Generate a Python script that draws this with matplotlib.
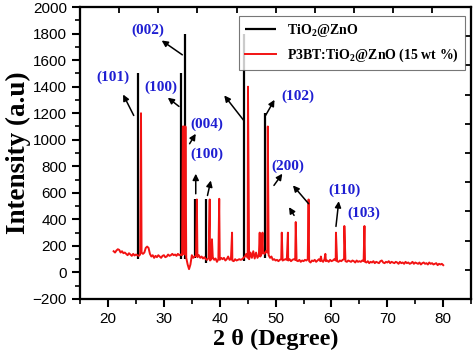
import numpy as np
import matplotlib
matplotlib.use("Agg")
import matplotlib.pyplot as plt
from matplotlib.ticker import MultipleLocator

plt.rcParams['font.family'] = ['Liberation Sans', 'DejaVu Sans']
plt.rcParams['mathtext.fontset'] = 'custom'
plt.rcParams['mathtext.rm'] = 'Liberation Serif:bold'
plt.rcParams['mathtext.bf'] = 'Liberation Serif:bold'

# black pattern (TiO2@ZnO): sharp reflections only
black_x = [25.3, 33.15, 33.85, 35.5, 37.6, 44.35, 48.1]
black_top = [1500, 1500, 1800, 550, 550, 1800, 1200]
black_bottom = [100, 100, 100, 110, 70, 90, 110]

# red pattern (P3BT:TiO2@ZnO): baseline sampled every 0.25 deg from 21 to 80
red_start, red_step = 21.0, 0.25
red_base = [
    160, 150, 165, 175,   # 21
    170, 150, 160, 145,   # 22
    150, 140, 130, 145,   # 23
    135, 125, 140, 128,   # 24
    135, 130, 125, 135,   # 25
    150, 140, 150, 185,   # 26
    195, 185, 140, 120,   # 27
    130, 110, 125, 115,   # 28
    130, 120, 110, 125,   # 29
    130, 115, 120, 135,   # 30
    125, 130, 140, 130,   # 31
    135, 125, 140, 130,   # 32
    135, 130, 140, 135,   # 33
    110, 60, 25, 60,      # 34
    130, 110, 120, 125,   # 35
    115, 130, 110, 120,   # 36
    105, 115, 100, 95,    # 37
    110, 90, 100, 115,    # 38
    95, 105, 80, 100,     # 39
    95, 110, 100, 110,    # 40
    90, 100, 120, 95,     # 41
    100, 90, 85, 100,     # 42
    90, 95, 100, 95,      # 43
    100, 110, 120, 140,   # 44
    110, 100, 150, 110,   # 45
    160, 105, 150, 110,   # 46
    130, 120, 140, 150,   # 47
    140, 160, 150, 130,   # 48
    110, 120, 95, 100,    # 49
    90, 95, 85, 95,       # 50
    100, 90, 95, 100,     # 51
    95, 90, 100, 85,      # 52
    95, 100, 95, 90,      # 53
    85, 95, 80, 90,       # 54
    85, 95, 90, 100,      # 55
    85, 75, 90, 85,       # 56
    95, 80, 90, 100,      # 57
    85, 90, 80, 100,      # 58
    85, 90, 80, 95,       # 59
    85, 90, 100, 90,      # 60
    85, 80, 90, 85,       # 61
    95, 100, 85, 80,      # 62
    90, 85, 80, 90,       # 63
    85, 75, 90, 80,       # 64
    85, 80, 90, 85,       # 65
    80, 75, 85, 70,       # 66
    80, 75, 85, 70,       # 67
    80, 75, 70, 85,       # 68
    90, 75, 70, 80,       # 69
    75, 85, 70, 80,       # 70
    75, 70, 80, 75,       # 71
    65, 80, 70, 75,       # 72
    65, 80, 70, 75,       # 73
    65, 70, 80, 65,       # 74
    75, 70, 65, 75,       # 75
    60, 70, 75, 65,       # 76
    70, 60, 75, 65,       # 77
    70, 60, 65, 70,       # 78
    55, 65, 60, 65,       # 79
    55,                   # 80
]
red_peak_x = [25.9, 33.4, 33.6, 33.85, 35.9, 38.2, 38.6, 39.9, 42.2, 45.05,
              47.15, 47.65, 48.6, 51.1, 52.2, 53.6, 55.9, 58.1, 58.9, 60.8,
              62.3, 65.9]
red_peak_y = [1200, 1100, 1100, 1100, 550, 550, 250, 555, 300, 1400,
              300, 300, 1100, 300, 300, 380, 550, 120, 140, 300,
              350, 350]

# hkl labels and their arrows (tail, head)
labels = [("(101)", (20.8, 1471)), ("(002)", (27.1, 1824)), ("(100)", (29.4, 1399)),
          ("(004)", (37.7, 1120)), ("(100)", (37.7, 891)), ("(102)", (53.9, 1326)),
          ("(200)", (52.1, 804)), ("(110)", (62.3, 622)), ("(103)", (65.8, 446))]
arrows = [((24.6, 1183), (22.7, 1341)), ((33.3, 1640), (29.6, 1748)),
          ((32.7, 1251), (30.7, 1317)), ((34.6, 970), (35.7, 1045)),
          ((35.7, 593), (35.7, 744)), ((37.8, 580), (38.4, 693)),
          ((44.3, 1145), (40.8, 1334)), ((48.2, 1183), (49.8, 1301)),
          ((49.7, 656), (51.2, 744)), ((55.9, 518), (53.1, 656)),
          ((53.3, 430), (52.4, 492)), ((60.8, 347), (61.3, 537))]

base_x = red_start + red_step * np.arange(len(red_base))
rx = np.concatenate([base_x, red_peak_x])
ry = np.concatenate([red_base, red_peak_y])
order = np.argsort(rx, kind='mergesort')
rx, ry = rx[order], ry[order]

fig = plt.figure(figsize=(4.74, 3.53), dpi=100)
ax = fig.add_axes([0.169, 0.153, 0.825, 0.827])

hb = ax.vlines(black_x, black_bottom, black_top, colors='k', lw=1.6,
               label='TiO$_2$@ZnO')
hr, = ax.plot(rx, ry, color='#f21313', lw=1.4, label='P3BT:TiO$_2$@ZnO (15 wt %)')

blue = '#1f1fd2'
for txt, (x, y) in labels:
    ax.text(x, y, txt, color=blue, fontsize=11, fontweight='bold',
            family='Liberation Serif', ha='center', va='center')
for tail, head in arrows:
    ax.annotate('', xy=head, xytext=tail,
                arrowprops=dict(arrowstyle='-|>', color='k', lw=1.1,
                                mutation_scale=9, shrinkA=0, shrinkB=0))

ax.set_xlim(15, 85)
ax.set_ylim(-200, 2000)
ax.xaxis.set_major_locator(MultipleLocator(10))
ax.xaxis.set_minor_locator(MultipleLocator(5))
ax.yaxis.set_major_locator(MultipleLocator(200))
ax.yaxis.set_minor_locator(MultipleLocator(100))
ax.set_xticks([20, 30, 40, 50, 60, 70, 80])
ax.tick_params(which='major', direction='out', length=6, width=1.5, labelsize=11,
               top=False, right=False)
ax.tick_params(which='minor', direction='out', length=3.5, width=1.2,
               top=False, right=False)
for s in ax.spines.values():
    s.set_linewidth(1.5)

ax.set_xlabel('2 θ (Degree)', fontsize=17.5, fontweight='bold',
              family='Liberation Serif', labelpad=2)
ax.set_ylabel('Intensity (a.u)', fontsize=19.5, fontweight='bold',
              family='Liberation Serif', labelpad=1)

# opposite axes carry plain inward ticks at tenths of the frame
ax_r = ax.twinx()
ax_r.set_ylim(0, 1)
ax_r.set_yticks([0.1 * k for k in range(1, 10)])
ax_r.tick_params(direction='in', length=4, width=1.3, labelright=False)
ax_t = ax.twiny()
ax_t.set_xlim(0, 1)
ax_t.set_xticks([0.1 * k for k in range(1, 10)])
ax_t.tick_params(direction='in', length=4, width=1.3, labeltop=False)
for a in (ax_r, ax_t):
    for s in a.spines.values():
        s.set_linewidth(1.5)

leg = ax_t.legend(handles=[hb, hr], loc='upper right', bbox_to_anchor=(0.985, 0.969),
                  borderaxespad=0, fancybox=False, edgecolor='#555555',
                  prop=dict(family='Liberation Serif', weight='bold', size=10),
                  handlelength=2.2, borderpad=0.45, labelspacing=0.5)
leg.get_frame().set_linewidth(0.8)

fig.savefig('out.png', dpi=100)
